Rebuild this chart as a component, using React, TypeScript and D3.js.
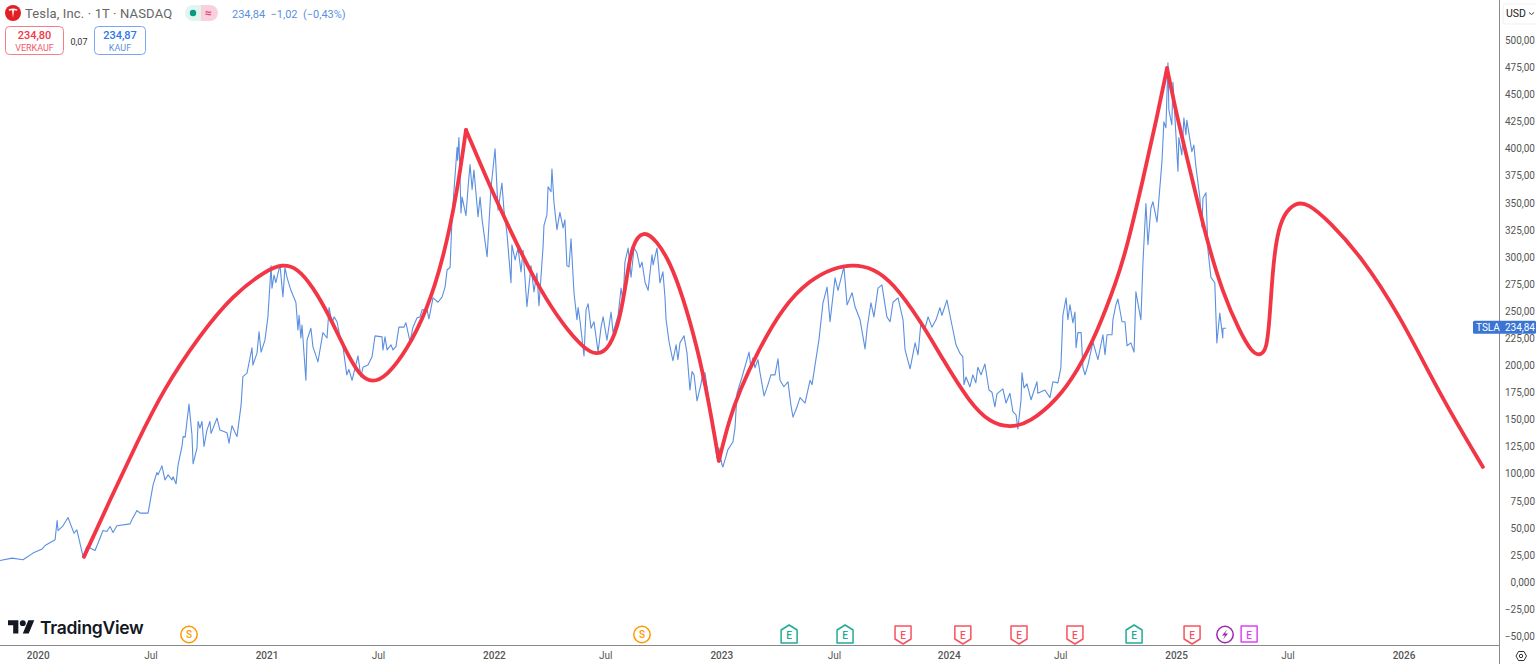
import React from "react";
import * as d3 from "d3";

// [decimal year, price in USD]
const closes: [number, number][] = [
  [2019.826, 19.6], [2019.879, 21.9], [2019.927, 20.3], [2019.971, 26.5], [2020.011, 30.2], [2020.024, 33.5],
  [2020.068, 38.8], [2020.077, 56.6], [2020.081, 47.3], [2020.103, 51.7], [2020.125, 59.3], [2020.151, 44.9],
  [2020.164, 48], [2020.191, 23.4], [2020.208, 32.6], [2020.244, 28.9], [2020.279, 47.3], [2020.296, 46.4],
  [2020.31, 51], [2020.323, 45.5], [2020.34, 51.7], [2020.398, 53.5], [2020.406, 57.2], [2020.428, 65.8],
  [2020.442, 63.4], [2020.477, 63.4], [2020.499, 89.5], [2020.516, 100.9], [2020.521, 98.7], [2020.538, 107],
  [2020.551, 94], [2020.565, 98.7], [2020.582, 94], [2020.587, 97], [2020.6, 90.4], [2020.609, 108],
  [2020.626, 124.9], [2020.631, 134], [2020.64, 133.5], [2020.657, 164], [2020.67, 135.7], [2020.675, 108.9],
  [2020.692, 123.4], [2020.697, 148], [2020.705, 141.8], [2020.714, 148], [2020.723, 124.9], [2020.736, 140],
  [2020.749, 148], [2020.754, 137], [2020.78, 151], [2020.793, 140], [2020.824, 137.5], [2020.833, 128],
  [2020.846, 144], [2020.868, 134], [2020.886, 163], [2020.894, 189.4], [2020.912, 192.6], [2020.934, 216],
  [2020.938, 200], [2020.956, 211], [2020.965, 230.7], [2020.974, 212], [2020.991, 223], [2021.004, 244.5],
  [2021.018, 291.6], [2021.022, 271], [2021.031, 283], [2021.039, 276], [2021.057, 292.5], [2021.07, 263],
  [2021.079, 290], [2021.088, 281], [2021.105, 269], [2021.127, 258], [2021.136, 232.5], [2021.141, 246],
  [2021.149, 225], [2021.154, 237], [2021.171, 186], [2021.176, 223], [2021.193, 234], [2021.202, 217],
  [2021.224, 203], [2021.246, 230], [2021.264, 225], [2021.273, 253], [2021.286, 239], [2021.295, 244.5],
  [2021.308, 240], [2021.321, 226], [2021.334, 217], [2021.351, 191], [2021.36, 196], [2021.374, 186],
  [2021.4, 208.5], [2021.413, 189], [2021.422, 198], [2021.444, 200], [2021.462, 207.6], [2021.475, 227],
  [2021.506, 226], [2021.51, 214], [2021.519, 226], [2021.528, 214], [2021.545, 218.7], [2021.554, 214],
  [2021.567, 217], [2021.58, 235], [2021.602, 235], [2021.611, 239], [2021.629, 221.5], [2021.642, 235],
  [2021.66, 243.6], [2021.673, 244.5], [2021.682, 251], [2021.704, 251], [2021.712, 242.7], [2021.73, 262],
  [2021.752, 258], [2021.77, 263], [2021.783, 272], [2021.792, 288], [2021.805, 290], [2021.814, 337],
  [2021.836, 401], [2021.838, 389], [2021.844, 410], [2021.853, 340.5], [2021.858, 355], [2021.875, 338],
  [2021.884, 363.6], [2021.893, 385], [2021.902, 362], [2021.91, 380], [2021.928, 337], [2021.937, 355],
  [2021.946, 334], [2021.968, 300], [2021.985, 363.6], [2022.003, 399.6], [2022.016, 343], [2022.033, 368],
  [2022.042, 343], [2022.055, 322], [2022.073, 276], [2022.077, 311], [2022.091, 297], [2022.104, 308],
  [2022.117, 286], [2022.126, 306], [2022.143, 254], [2022.161, 291.6], [2022.174, 267.6], [2022.187, 285],
  [2022.196, 254.7], [2022.214, 309], [2022.218, 329], [2022.231, 338.7], [2022.236, 364.5], [2022.249, 360],
  [2022.253, 381], [2022.262, 350], [2022.275, 325], [2022.288, 341], [2022.302, 326.7], [2022.31, 334],
  [2022.319, 291.6], [2022.328, 290.7], [2022.337, 316.5], [2022.35, 266.7], [2022.363, 241.8], [2022.368, 253],
  [2022.376, 241.8], [2022.394, 208.5], [2022.403, 251], [2022.412, 256.5], [2022.425, 234], [2022.438, 240],
  [2022.456, 212], [2022.469, 235], [2022.478, 244.5], [2022.495, 223], [2022.513, 249], [2022.522, 230],
  [2022.544, 246], [2022.557, 271], [2022.566, 258], [2022.574, 295], [2022.588, 308], [2022.601, 281],
  [2022.614, 308], [2022.627, 303.6], [2022.64, 290], [2022.649, 295], [2022.663, 276], [2022.676, 269],
  [2022.693, 301.8], [2022.698, 292.5], [2022.715, 308], [2022.728, 276], [2022.741, 286], [2022.75, 263],
  [2022.755, 241.8], [2022.768, 221.5], [2022.785, 204], [2022.799, 218.7], [2022.807, 205], [2022.816, 220.5],
  [2022.834, 227], [2022.847, 211], [2022.86, 177], [2022.869, 194], [2022.878, 191], [2022.891, 167],
  [2022.908, 182], [2022.917, 193], [2022.926, 193], [2022.939, 174], [2022.961, 143], [2022.979, 114],
  [2022.987, 123.6], [2023.001, 108], [2023.005, 106], [2023.027, 122], [2023.049, 129], [2023.058, 142],
  [2023.067, 174], [2023.089, 189], [2023.12, 212], [2023.128, 197.5], [2023.137, 206.7], [2023.146, 197.5],
  [2023.159, 205], [2023.168, 193], [2023.186, 171.6], [2023.203, 182], [2023.216, 191], [2023.234, 191],
  [2023.247, 205.8], [2023.256, 186], [2023.273, 180], [2023.291, 184.6], [2023.304, 163], [2023.313, 152],
  [2023.331, 161.5], [2023.344, 170], [2023.366, 165], [2023.388, 186], [2023.397, 182], [2023.41, 200],
  [2023.427, 223], [2023.445, 257.5], [2023.463, 272], [2023.476, 240], [2023.498, 280.5], [2023.511, 269],
  [2023.537, 290.7], [2023.551, 255.6], [2023.573, 266.7], [2023.586, 253.8], [2023.608, 241.8], [2023.63, 215],
  [2023.639, 234], [2023.656, 257.5], [2023.669, 244.5], [2023.687, 271], [2023.704, 274], [2023.726, 244.5],
  [2023.74, 240], [2023.753, 258], [2023.775, 262], [2023.797, 241.8], [2023.806, 214], [2023.828, 196.6],
  [2023.85, 220.5], [2023.863, 209.5], [2023.876, 240], [2023.894, 234], [2023.907, 244.5], [2023.924, 235],
  [2023.942, 241.8], [2023.959, 253], [2023.968, 246], [2023.99, 260], [2024.012, 237], [2024.03, 218.7],
  [2024.047, 211], [2024.06, 207.6], [2024.065, 182], [2024.074, 189], [2024.091, 180], [2024.104, 191],
  [2024.117, 183.6], [2024.126, 198], [2024.14, 191], [2024.157, 201], [2024.175, 177], [2024.188, 175],
  [2024.201, 161.5], [2024.21, 173.5], [2024.236, 178], [2024.25, 165], [2024.267, 174], [2024.28, 157],
  [2024.294, 154], [2024.302, 141], [2024.316, 168], [2024.32, 193], [2024.329, 179], [2024.342, 182.7],
  [2024.36, 168], [2024.386, 184.6], [2024.39, 174], [2024.421, 177], [2024.443, 170], [2024.456, 184.6],
  [2024.478, 183.6], [2024.491, 197.5], [2024.5, 246], [2024.514, 262], [2024.522, 241.8], [2024.531, 255.6],
  [2024.544, 239], [2024.553, 249], [2024.558, 216], [2024.566, 230], [2024.58, 230], [2024.588, 198],
  [2024.597, 191], [2024.61, 200], [2024.632, 221.5], [2024.654, 205], [2024.676, 228], [2024.685, 209.5],
  [2024.694, 228], [2024.716, 228], [2024.72, 241.8], [2024.733, 255.6], [2024.742, 261], [2024.76, 240],
  [2024.773, 240], [2024.782, 217.8], [2024.799, 220.5], [2024.813, 212], [2024.821, 267.6], [2024.843, 241.8],
  [2024.852, 294], [2024.865, 349], [2024.874, 311], [2024.887, 345], [2024.896, 350.7], [2024.914, 332],
  [2024.923, 355], [2024.936, 389], [2024.944, 424.5], [2024.953, 419], [2024.962, 479], [2024.966, 435.6],
  [2024.979, 421.7], [2024.984, 461], [2025.006, 379], [2025.01, 410], [2025.023, 394], [2025.032, 428],
  [2025.041, 412.5], [2025.045, 426], [2025.067, 397], [2025.076, 403], [2025.085, 383], [2025.102, 355],
  [2025.111, 327.6], [2025.116, 354], [2025.129, 359], [2025.138, 306], [2025.151, 281], [2025.168, 276],
  [2025.177, 220.5], [2025.19, 248], [2025.203, 225], [2025.204, 234], [2025.217, 234],
];

// hand drawn red forecast curve, one list per stroke between the sharp turns
const curveLegs: [number, number][][] = [
  [
    [2020.195, 23], [2020.31, 75.7], [2020.428, 128.3], [2020.543, 177], [2020.705, 227.9], [2020.85, 264.8],
    [2021.0, 288], [2021.066, 293], [2021.132, 290], [2021.202, 272], [2021.268, 248], [2021.351, 211],
    [2021.409, 190], [2021.462, 183.5], [2021.528, 190], [2021.616, 214], [2021.704, 251], [2021.774, 297],
    [2021.836, 359], [2021.875, 417],
  ],
  [
    [2021.875, 417], [2021.981, 364.5], [2022.099, 311], [2022.201, 269.5], [2022.302, 237], [2022.39, 216],
    [2022.451, 208.5], [2022.508, 216], [2022.552, 241.8], [2022.583, 281.5], [2022.605, 311], [2022.654, 325],
    [2022.715, 314.5], [2022.772, 295], [2022.829, 263], [2022.891, 217], [2022.939, 170.7], [2022.987, 111.7],
  ],
  [
    [2022.987, 111.7], [2023.032, 149.5], [2023.08, 177], [2023.154, 211], [2023.268, 253.8], [2023.388, 278.7],
    [2023.489, 289.5], [2023.577, 293], [2023.665, 289.5], [2023.753, 276], [2023.871, 241.8], [2023.973, 204.9],
    [2024.091, 165], [2024.179, 147], [2024.267, 142], [2024.355, 147], [2024.474, 168], [2024.562, 193.8],
    [2024.65, 229.8], [2024.738, 278.7], [2024.782, 309], [2024.852, 371], [2024.914, 429], [2024.958, 474],
  ],
  [
    [2024.958, 474], [2025.002, 429], [2025.059, 380], [2025.134, 313.8], [2025.203, 266.7], [2025.278, 230.7],
    [2025.33, 212], [2025.366, 208.5], [2025.397, 214], [2025.41, 246], [2025.423, 288], [2025.441, 320],
    [2025.472, 339.6], [2025.52, 349.7], [2025.577, 349.7], [2025.674, 332], [2025.806, 301.8], [2025.982, 246],
    [2026.158, 172.6], [2026.347, 106],
  ],
];

const priceTicks = [500, 475, 450, 425, 400, 375, 350, 325, 300, 275, 250, 225, 200, 175, 150, 125, 100, 75, 50, 25, 0, -25, -50];
const timeTicks: [number, string][] = [
  [2019.994, "2020"], [2020.49, "Jul"], [2021, "2021"], [2021.49, "Jul"], [2022, "2022"], [2022.49, "Jul"], [2023, "2023"],
  [2023.495, "Jul"], [2024, "2024"], [2024.49, "Jul"], [2025, "2025"], [2025.49, "Jul"], [2026, "2026"],
];
const events: [number, string][] = [
  [2020.657, "split"], [2022.649, "split"], [2023.296, "beat"], [2023.542, "beat"], [2023.797, "miss"], [2024.06, "miss"],
  [2024.307, "miss"], [2024.553, "miss"], [2024.813, "beat"], [2025.068, "miss"], [2025.213, "dividend"], [2025.319, "next"],
];

const lastPrice = 234.84;
const font = "Roboto, 'Noto Sans', sans-serif";
const red = "#f23645";
const blue = "#2f78e8";
const axisText = "#555";

const x = d3.scaleLinear().domain([2020, 2026]).range([39.6, 1404]);
const y = d3.scaleLinear().domain([-50, 500]).range([636, 40]);

const de = d3.formatLocale({ decimal: ",", thousands: ".", grouping: [3], currency: ["", "$"], minus: "−" });
const fmt = de.format(".2f");
const priceLabel = (v: number) => (v === 0 ? "0,000" : fmt(v));

const line = d3.line<[number, number]>().x((d) => x(d[0])).y((d) => y(d[1]));
const smooth = d3
  .line<[number, number]>()
  .x((d) => x(d[0]))
  .y((d) => y(d[1]))
  .curve(d3.curveBasis);

function EventMark({ year, kind }: { year: number; kind: string }) {
  const cx = x(year);
  const top = 626;
  const bottom = 643;
  if (kind === "split" || kind === "dividend") {
    const col = kind === "split" ? "#ff9800" : "#9c27b0";
    return (
      <g>
        <circle cx={cx} cy={634.5} r={8.2} fill="#fff" stroke={col} strokeWidth={1.5} />
        {kind === "split" ? (
          <text x={cx} y={638} textAnchor="middle" fontSize={10} fontWeight={500} fill={col}>S</text>
        ) : (
          <path d={`M${cx + 2},${629.5} L${cx - 3},${635.5} L${cx},${635.5} L${cx - 2},${639.5} L${cx + 3},${633.5} L${cx},${633.5} Z`} fill={col} />
        )}
      </g>
    );
  }
  const col = kind === "beat" ? "#22ab94" : kind === "miss" ? "#f7525f" : "#e040fb";
  const w = 8;
  const d =
    kind === "beat"
      ? `M${cx},${top - 1} L${cx + w},${top + 4} V${bottom} H${cx - w} V${top + 4} Z`
      : kind === "miss"
      ? `M${cx - w},${top} H${cx + w} V${bottom - 4} L${cx},${bottom + 1} L${cx - w},${bottom - 4} Z`
      : `M${cx - w},${top} H${cx + w} V${bottom - 1} H${cx - w} Z`;
  return (
    <g>
      <path d={d} fill="#fff" stroke={col} strokeWidth={1.5} strokeLinejoin="round" />
      <text x={cx} y={638.5} textAnchor="middle" fontSize={10} fontWeight={500} fill={col}>E</text>
    </g>
  );
}

export default function App() {
  return (
    <svg
      width={1536}
      height={664}
      viewBox="0 0 1536 664"
      style={{ position: "absolute", left: 0, top: 0, background: "#fff", fontFamily: font }}
    >
      {/* price line and forecast */}
      <path d={line(closes) ?? ""} fill="none" stroke="#5b8fe0" strokeWidth={1.1} strokeLinejoin="round" />
      {curveLegs.map((leg, i) => (
        <path key={i} d={smooth(leg) ?? ""} fill="none" stroke={red} strokeWidth={3.8} strokeLinecap="round" strokeLinejoin="round" />
      ))}

      {/* frame */}
      <line x1={0} x2={1500} y1={645.5} y2={645.5} stroke="#8a8a8a" />
      <line x1={1499.5} x2={1499.5} y1={0} y2={664} stroke="#8a8a8a" />

      {/* price axis */}
      {priceTicks.map((t) => (
        <text key={t} x={1535} y={y(t) + 4} textAnchor="end" fontSize={10} fill={axisText}>
          {priceLabel(t)}
        </text>
      ))}
      <rect x={1503} y={4} width={40} height={20} rx={3} fill="#fff" stroke="#eceff3" />
      <text x={1506} y={17} fontSize={10.5} fill="#222">USD</text>
      <path d="M1529,12.5 l2.5,2 l2.5,-2" fill="none" stroke="#444" strokeWidth={1} />

      {/* last price tag */}
      <rect x={1473} y={y(lastPrice) - 6.5} width={63} height={13} rx={1.5} fill="#3a75d3" />
      <text x={1476} y={y(lastPrice) + 3.5} fontSize={10} fill="#fff">TSLA</text>
      <text x={1535} y={y(lastPrice) + 3.5} textAnchor="end" fontSize={10} fill="#fff">{fmt(lastPrice)}</text>

      {/* time axis */}
      {timeTicks.map(([t, label]) => (
        <text
          key={t}
          x={x(t)}
          y={659}
          textAnchor="middle"
          fontSize={10}
          fontWeight={label === "Jul" ? 400 : 500}
          fill={axisText}
        >
          {label}
        </text>
      ))}
      <path d="M1516,656 l2.5,-4.5 h5.5 l2.5,4.5 l-2.5,4.5 h-5.5 Z" fill="none" stroke="#333" strokeWidth={1} />
      <circle cx={1521} cy={656} r={1.7} fill="none" stroke="#333" strokeWidth={1} />

      {/* events */}
      {events.map(([year, kind], i) => (
        <EventMark key={i} year={year} kind={kind} />
      ))}

      {/* legend */}
      <circle cx={13} cy={13} r={8} fill="#e31e24" />
      <path d="M8.5,9.5 Q13,7.5 17.5,9.5 L16.8,10.8 Q15,10.2 14,10.3 L13,18 L12,10.3 Q11,10.2 9.2,10.8 Z" fill="#fff" />
      <text x={25} y={18} fontSize={13} letterSpacing={0.15} fill="#666">Tesla, Inc. · 1T · NASDAQ</text>
      <path d="M201,5 H193 a8,8 0 0 0 0,16 H201 Z" fill="#e2f3f0" />
      <path d="M201,5 H210 a8,8 0 0 1 0,16 H201 Z" fill="#fbd0dd" />
      <circle cx={193} cy={13} r={3.2} fill="#089981" />
      <text x={208.5} y={17} textAnchor="middle" fontSize={12} fontWeight={700} fill="#e0457b">≈</text>
      <text x={232} y={17.5} fontSize={11} fill="#5b8fe0" style={{ whiteSpace: "pre" }}>234,84  −1,02  (−0,43%)</text>

      <rect x={5.5} y={26.5} width={58} height={28} rx={4} fill="#fff" stroke="#f77c85" />
      <text x={34.5} y={39} textAnchor="middle" fontSize={11} fontWeight={500} fill={red}>234,80</text>
      <text x={34.5} y={51} textAnchor="middle" fontSize={9} fill="#f2596a">VERKAUF</text>
      <text x={79} y={44.5} textAnchor="middle" fontSize={9} fill="#333">0,07</text>
      <rect x={94.5} y={26.5} width={51} height={28} rx={4} fill="#fff" stroke="#7ba4f5" />
      <text x={120} y={39} textAnchor="middle" fontSize={11} fontWeight={500} fill={blue}>234,87</text>
      <text x={120} y={51} textAnchor="middle" fontSize={9} fill="#5b8fe0">KAUF</text>

      {/* watermark */}
      <g transform="translate(8,615) scale(0.74)" fill="#131722">
        <path d="M14 25H7V14H0V7h14v18zM28 25h-8l7.5-18h8L28 25z" />
        <circle cx={20} cy={11} r={4} />
      </g>
      <text x={40} y={633.5} fontSize={17.5} fontWeight={600} fontFamily="Inter, Roboto, sans-serif" letterSpacing={-0.3} fill="#131722">
        TradingView
      </text>
    </svg>
  );
}
